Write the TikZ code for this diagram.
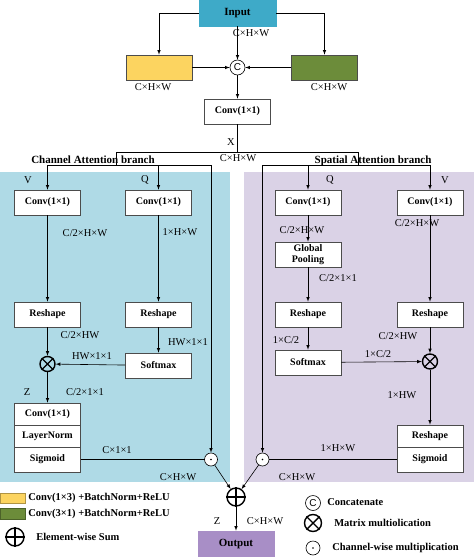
\documentclass[tikz,border=0pt]{standalone}
\usepackage{fontspec}
\setmainfont{Liberation Serif}
\setsansfont{Liberation Sans}
\usepackage{tikz}

\definecolor{inputc}{RGB}{62,170,200}
\definecolor{yelc}{RGB}{252,212,96}
\definecolor{grnc}{RGB}{108,140,58}
\definecolor{chbg}{RGB}{175,218,230}
\definecolor{spbg}{RGB}{218,210,230}
\definecolor{outc}{RGB}{168,142,198}

\tikzset{
  box/.style={draw=black!70, fill=white, minimum width=66pt, minimum height=25pt,
    inner sep=1pt, align=center, font=\bfseries\fontsize{10}{11}\selectfont},
  lbl/.style={inner sep=0pt, font=\fontsize{10.5}{11}\selectfont},
  ttl/.style={inner sep=0pt, font=\bfseries\fontsize{11}{12}\selectfont},
  leg/.style={inner sep=0pt, anchor=west, font=\bfseries\fontsize{10.5}{11}\selectfont},
  mulc/.style={draw, circle, line width=1.4pt, minimum size=15pt, inner sep=0pt},
  dotc/.style={draw, circle, fill=white, minimum size=13pt, inner sep=0pt},
}

\begin{document}
\begin{tikzpicture}[x=1pt,y=-1pt]
\useasboundingbox (0,0) rectangle (474,557);
\begin{scope}[>=latex, line width=0.6pt]
% branch backgrounds
\fill[chbg] (0,172) rectangle (230,482);
\fill[spbg] (244,172) rectangle (474,482);

% stem
\node[box, draw=inputc, fill=inputc, minimum width=77pt, minimum height=26pt,
  font=\bfseries\fontsize{11}{12}\selectfont] (input) at (237.5,13) {Input};
\node[box, fill=yelc] (yel) at (159,67.5) {};
\node[box, fill=grnc] (grn) at (324.5,67.5) {};
\node[dotc, minimum size=15pt, font=\sffamily\fontsize{10}{10}\selectfont] (cat) at (237.5,67.5) {C};
\node[box] (conv0) at (237.5,111.5) {Conv(1×1)};

\node[lbl] (s0) at (251,33) {C×H×W};
\node[lbl] (s1) at (153,87) {C×H×W};
\node[lbl] (s2) at (329,87) {C×H×W};
\node[lbl] (xlab) at (231,142) {X};
\node[lbl] (s3) at (238,158) {C×H×W};

\draw[->] (input.west) -| (yel.north);
\draw[->] (input.east) -| (grn.north);
\draw[->] (input) -- (cat);
\draw[->] (yel) -- (cat);
\draw[->] (grn) -- (cat);
\draw[->] (cat) -- (conv0);

\coordinate (xs) at (237.5,152);
\coordinate (xl) at (116,152);
\coordinate (xr) at (358,152);
\coordinate (cl) at (116,165);
\coordinate (cr) at (358,165);
\draw (conv0) -- (xs);
\draw (xl) -- (xr);
\draw (xl) -- (cl);
\draw (xr) -- (cr);

% channel attention branch
\node[ttl] (ctitle) at (93,160) {Channel Attention branch};
\coordinate (lv) at (47.5,165);
\coordinate (lq) at (158.5,165);
\coordinate (lid) at (211,165);
\draw (lv) -- (lid);

\node[box] (lconvv) at (47.5,202.5) {Conv(1×1)};
\node[box] (lconvq) at (158.5,202.5) {Conv(1×1)};
\node[box] (lreshv) at (47.5,314.5) {Reshape};
\node[box] (lreshq) at (158.5,314.5) {Reshape};
\node[mulc] (lmul) at (47.5,364) {};
\node[box] (lsoft) at (158.5,365.5) {Softmax};
\node[box, minimum height=22pt] (lconv2) at (47.5,414) {Conv(1×1)};
\node[box, minimum height=22pt] (lnorm) at (47.5,436) {LayerNorm};
\node[box] (lsig) at (47.5,459.5) {Sigmoid};
\node[dotc] (ldot) at (211,459.5) {};

\node[lbl] (lv0) at (28,180) {V};
\node[lbl] (lq0) at (145,180) {Q};
\node[lbl] (lv1) at (85,233) {C/2×H×W};
\node[lbl] (lq1) at (180,232) {1×H×W};
\node[lbl] (lv2) at (80,335) {C/2×HW};
\node[lbl] (lq2) at (188,342) {HW×1×1};
\node[lbl] (lq3) at (92,356) {HW×1×1};
\node[lbl] (lz) at (27,392) {Z};
\node[lbl] (lv3) at (85,392) {C/2×1×1};
\node[lbl] (lw) at (117,450) {C×1×1};
\node[lbl] (lout) at (178,477) {C×H×W};

\draw[->] (lv) -- (lconvv);
\draw[->] (lq) -- (lconvq);
\draw[->] (lid) -- (ldot);
\draw[->] (lconvv) -- (lreshv);
\draw[->] (lreshv) -- (lmul);
\draw[->] (lconvq) -- (lreshq);
\draw[->] (lreshq) -- (lsoft);
\draw[->] (lsoft) -- (lmul);
\draw[->] (lmul) -- (lconv2);
\draw (lsig) -- (ldot);

% spatial attention branch
\node[ttl] (stitle) at (373,161) {Spatial Attention branch};
\coordinate (rid) at (262.5,165);
\coordinate (rq) at (308,165);
\coordinate (rv) at (430,165);
\draw (rid) -- (rv);

\node[box] (rconvq) at (308,202.5) {Conv(1×1)};
\node[box] (rconvv) at (430,202.5) {Conv(1×1)};
\node[box, font=\bfseries\fontsize{10}{11.5}\selectfont] (rpool) at (308,254.5) {Global\\Pooling};
\node[box] (rreshq) at (308,314.5) {Reshape};
\node[box] (rreshv) at (430,314.5) {Reshape};
\node[box] (rsoft) at (308,362.5) {Softmax};
\node[mulc] (rmul) at (430,361.5) {};
\node[box, minimum height=22pt] (rresh2) at (430,436) {Reshape};
\node[box] (rsig) at (430,459.5) {Sigmoid};
\node[dotc] (rdot) at (262.5,459.5) {};

\node[lbl] (rq0) at (330,180) {Q};
\node[lbl] (rv0) at (445,180) {V};
\node[lbl] (rq1) at (302,230) {C/2×H×W};
\node[lbl] (rv1) at (417,223) {C/2×H×W};
\node[lbl] (rq2) at (338,278) {C/2×1×1};
\node[lbl] (rq3) at (286,340) {1×C/2};
\node[lbl] (rv2) at (398,336) {C/2×HW};
\node[lbl] (rq4) at (378,354) {1×C/2};
\node[lbl] (rv3) at (402,395) {1×HW};
\node[lbl] (rw) at (338,448) {1×H×W};
\node[lbl] (rout) at (297,477) {C×H×W};

\draw[->] (rid) -- (rdot);
\draw[->] (rq) -- (rconvq);
\draw[->] (rv) -- (rconvv);
\draw[->] (rconvq) -- (rpool);
\draw[->] (rpool) -- (rreshq);
\draw[->] (rreshq) -- (rsoft);
\draw[->] (rsoft) -- (rmul);
\draw[->] (rconvv) -- (rreshv);
\draw[->] (rreshv) -- (rmul);
\draw[->] (rmul) -- (rresh2);
\draw (rsig) -- (rdot);

% fusion
\node[mulc, minimum size=18pt] (sum) at (236,497) {};
\node[box, draw=outc, fill=outc, minimum width=76pt, minimum height=26pt,
  font=\bfseries\fontsize{11}{12}\selectfont] (output) at (236,544) {Output};
\node[lbl] (oz) at (217,521) {Z};
\node[lbl] (os) at (265,521) {C×H×W};
\draw[->] (ldot) -- (sum);
\draw[->] (rdot) -- (sum);
\draw[->] (sum) -- (output);

% legend
\filldraw[fill=yelc, draw=yelc!70!black] (0,493) rectangle (25,503);
\filldraw[fill=grnc, draw=grnc!70!black] (0,508) rectangle (25,519);
\node[leg] (ly) at (28,498) {Conv(1×3) +BatchNorm+ReLU};
\node[leg] (lg) at (28,513.5) {Conv(3×1) +BatchNorm+ReLU};
\node[mulc, minimum size=18pt] (gsum) at (15,537) {};
\node[leg] (lsum) at (36,537) {Element-wise Sum};
\node[dotc, minimum size=15pt, font=\sffamily\fontsize{10}{10}\selectfont] (gcat) at (313,503) {C};
\node[leg] (lcat) at (327,502) {Concatenate};
\node[mulc, minimum size=17pt] (gmul) at (313,523) {};
\node[leg] (lmm) at (334,523) {Matrix multiolication};
\node[dotc, minimum size=14pt] (gdot) at (313,548) {};
\node[leg] (lcw) at (332,548) {Channel-wise multiplication};

% operator marks
\foreach \n in {lmul,rmul,gmul}
  \draw[line width=1.4pt] (\n.north east) -- (\n.south west) (\n.north west) -- (\n.south east);
\foreach \n in {sum,gsum}
  \draw[line width=1.4pt] (\n.north) -- (\n.south) (\n.west) -- (\n.east);
\foreach \n in {ldot,rdot,gdot}
  \fill (\n) circle (0.9pt);
\end{scope}
\end{tikzpicture}
\end{document}
